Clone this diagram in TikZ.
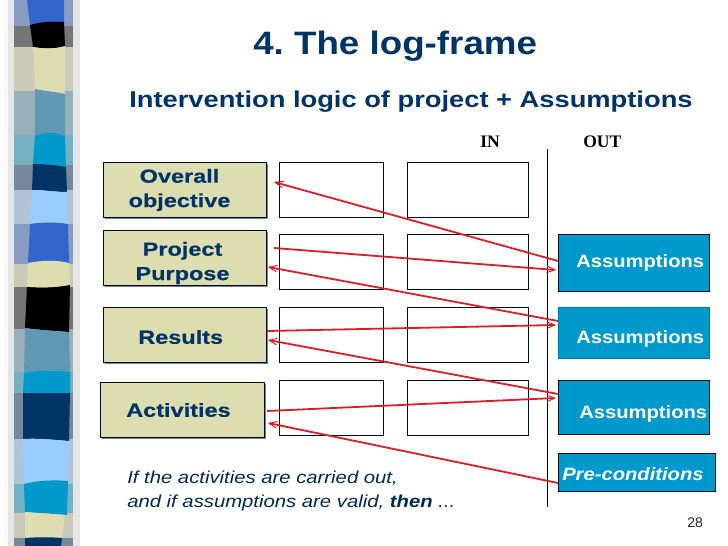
\documentclass[tikz,border=0pt]{standalone}
\usepackage{fontspec}
\setmainfont{Liberation Sans}
\newfontfamily\serifb{Liberation Serif}
\usetikzlibrary{arrows.meta,shadows}
\definecolor{navy}{HTML}{003366}
\definecolor{khaki}{HTML}{DDDDB1}
\definecolor{teal}{HTML}{0099CC}
\definecolor{redline}{HTML}{D81E26}
\definecolor{royal}{HTML}{3366CC}
\definecolor{steel}{HTML}{5F99B3}
\definecolor{sky}{HTML}{99CCFF}
\newcommand{\ls}[1]{\addfontfeature{FakeStretch=#1}}
\newcommand{\lsh}[1]{\addfontfeature{FakeStretch=#1,FakeBold=0.4}}
\tikzset{
 x=0.75pt,y=-0.75pt,
 box/.style={draw=black,line width=0.95pt,inner sep=0pt,anchor=north west},
 labelbox/.style={box,fill=khaki,draw=black!80!navy,drop shadow={shadow xshift=.9pt,shadow yshift=-.9pt,fill=navy!60!gray,opacity=.7}},
 emptybox/.style={box,fill=white,draw=black!70!navy,drop shadow={shadow xshift=.6pt,shadow yshift=-.6pt,fill=navy!40!gray,opacity=.5}},
 bluebox/.style={box,fill=teal,draw=black!70!navy,drop shadow={shadow xshift=.6pt,shadow yshift=-.6pt,fill=navy!40!gray,opacity=.5}},
 link/.style={draw=redline,line width=1.35pt,-{Straight Barb[length=6pt,width=5pt,line width=.7pt]}},
 txt/.style={inner sep=0pt,anchor=west},
 lbl/.style={txt,text=navy,font=\fontsize{14.2}{18.3}\selectfont\bfseries\lsh{1.24}},
 bt/.style={txt,text=white,font=\fontsize{13.4}{16}\selectfont\bfseries\ls{1.13}},
 note/.style={txt,font=\fontsize{13}{18}\selectfont\itshape\ls{1.17},text=navy!80!black},
}
\begin{document}
\begin{tikzpicture}
\frenchspacing
\useasboundingbox (0,0) rectangle (728,546);
\fill[white] (0,0) rectangle (728,546);
% ribbon shadow
\foreach \a/\o in {4/12,8/20,12/35}{\fill[black,opacity=.02*\o/12] (\a,0) rectangle (82-\a,546);}
\fill[black!10] (8,0) rectangle (14,546);
\fill[black!10] (73,0) rectangle (80,546);
% ribbon side panels
\foreach \ya/\yb/\c in {0/26/royal,26/47/black,47/91/khaki,91/135/steel,135/165/teal,165/190/navy,190/224/sky,224/264/royal,264/287/khaki,287/329/black,329/372/steel,372/393/teal,393/439/navy,439/484/sky,484/513/teal,513/538/khaki,538/546/navy}{
 \fill[\c!55!gray!70!white] (14,\ya) rectangle (73,\yb);
}
% ribbon centre
\fill[royal] (27,0) -- (64,0) -- (64,22) .. controls (50,21) and (40,22) .. (30,25) -- cycle;
\fill[black] (30,25) .. controls (40,22) and (50,21) .. (64,22) -- (65,46) .. controls (55,49) and (45,49) .. (33,47) -- cycle;
\fill[khaki] (33,47) .. controls (45,49) and (55,49) .. (65,46) -- (65,94) .. controls (55,92) and (45,91) .. (35,89) -- cycle;
\fill[steel] (35,89) .. controls (45,91) and (55,92) .. (65,94) -- (65,136) .. controls (55,132) and (45,132) .. (35,136) -- cycle;
\fill[teal] (35,136) .. controls (45,132) and (55,132) .. (65,136) -- (66,167) .. controls (55,165) and (45,164) .. (33,164) -- cycle;
\fill[navy] (33,164) .. controls (45,164) and (55,165) .. (66,167) -- (67,192) .. controls (55,192) and (45,190) .. (32,190) -- cycle;
\fill[sky] (32,190) .. controls (45,190) and (55,192) .. (67,192) -- (68,224) .. controls (55,222) and (45,222) .. (30,224) -- cycle;
\fill[royal] (30,224) .. controls (45,222) and (55,222) .. (68,224) -- (69,263) .. controls (55,260) and (45,260) .. (28,263) -- cycle;
\fill[khaki] (28,263) .. controls (45,260) and (55,260) .. (69,263) -- (70,285) .. controls (55,288) and (40,288) .. (27,287) -- cycle;
\fill[black] (27,287) .. controls (40,288) and (55,288) .. (70,285) -- (69,332) .. controls (55,331) and (40,330) .. (25,328) -- cycle;
\fill[steel] (25,328) .. controls (40,330) and (55,331) .. (69,332) -- (70,372) .. controls (55,370) and (40,370) .. (24,373) -- cycle;
\fill[teal] (24,373) .. controls (40,370) and (55,370) .. (70,372) -- (70,393) -- (23,393) -- cycle;
\fill[navy] (23,393) -- (70,393) -- (69,441) .. controls (55,440) and (40,438) .. (23,439) -- cycle;
\fill[sky] (23,439) .. controls (40,438) and (55,440) .. (69,441) -- (68,481) .. controls (55,480) and (40,480) .. (24,484) -- cycle;
\fill[teal] (24,484) .. controls (40,480) and (55,480) .. (68,481) -- (67,515) .. controls (55,514) and (40,513) .. (25,512) -- cycle;
\fill[khaki] (25,512) .. controls (40,513) and (55,514) .. (65,515) -- (62,538) .. controls (50,537) and (40,537) .. (25,538) -- cycle;
\fill[navy] (25,538) .. controls (40,537) and (50,537) .. (62,538) -- (61,546) -- (25,546) -- cycle;
% titles
\node[txt,font=\fontsize{24.3}{28}\selectfont\bfseries\ls{1.134},text=navy] (title) at (253,46) {4. The log-frame};
\node[txt,font=\fontsize{17.2}{20}\selectfont\bfseries\ls{1.19},text=navy] (sub) at (129,102) {Intervention logic of project + Assumptions};
\node[txt,font=\serifb\fontsize{13.2}{14}\selectfont\bfseries] (in) at (480,142) {IN};
\node[txt,font=\serifb\fontsize{13.2}{14}\selectfont\bfseries] (out) at (583,142) {OUT};
% divider
\coordinate (divtop) at (547,149);
\coordinate (divbot) at (547,507);
\draw[black,line width=.7pt] (divtop) -- (divbot);
% left boxes
\node[labelbox,minimum width=122.25pt,minimum height=41.25pt] (overall) at (103,162) {};
\node[labelbox,minimum width=122.25pt,minimum height=41.25pt] (purpose) at (103,230) {};
\node[labelbox,minimum width=122.25pt,minimum height=41.25pt] (results) at (103,307) {};
\node[labelbox,minimum width=123pt,minimum height=41.25pt] (activities) at (100,382) {};
\node[lbl,align=center,anchor=center] (t1) at (179.5,190) {Overall\\objective};
\node[lbl,align=center,anchor=center] (t2) at (182.5,263) {Project\\Purpose};
\node[lbl] (t3) at (138,337) {Results};
\node[lbl] (t4) at (126,410) {Activities};
% middle boxes
\foreach \n/\y/\h in {a/162/55,b/234/55,c/307/55,d/380/55}{
 \node[emptybox,minimum width=78pt,minimum height=\h*0.75pt] (m\n) at (279,\y) {};
 \node[emptybox,minimum width=90.75pt,minimum height=\h*0.75pt] (r\n) at (407,\y) {};
}
% blue boxes
\node[bluebox,minimum width=113.25pt,minimum height=42.75pt] (as1) at (558,234) {};
\node[bluebox,draw=teal!80!black,minimum width=113.25pt,minimum height=38.25pt] (as2) at (558,307) {};
\node[bluebox,minimum width=113.25pt,minimum height=40.5pt] (as3) at (558,380) {};
\node[bluebox,minimum width=117.75pt,minimum height=28.5pt] (pre) at (558,453) {};
\node[bt] (at1) at (576,263) {Assumptions};
\node[bt] (at2) at (576,339) {Assumptions};
\node[bt] (at3) at (579,414) {Assumptions};
\node[txt,text=white,font=\fontsize{13.4}{16}\selectfont\bfseries\itshape\ls{1.13}] (pt) at (562,474) {Pre-conditions};
% bottom text
\node[note] (b1) at (127,478) {If the activities are carried out,};
\node[note] (b2) at (127,503) {and if assumptions are valid, \textbf{then} ...};
\node[txt,font=\fontsize{10.5}{12}\selectfont,text=black!85] (pg) at (687,523) {28};
% connectors
\coordinate (e1) at (274,182);
\coordinate (s2) at (274,248);
\coordinate (e3) at (268,267);
\coordinate (s4) at (267,331);
\coordinate (e5) at (268,340);
\coordinate (s6) at (267,411);
\coordinate (e7) at (268,423);
\coordinate (p1) at (558,261);
\coordinate (p2) at (556,270);
\coordinate (p3) at (558,321);
\coordinate (p4) at (556,325);
\coordinate (p5) at (558,394);
\coordinate (p6) at (556,398);
\coordinate (p7) at (558,483);
\draw[link] (p1) -- (e1);
\draw[link] (s2) -- (p2);
\draw[link] (p3) -- (e3);
\draw[link] (s4) -- (p4);
\draw[link] (p5) -- (e5);
\draw[link] (s6) -- (p6);
\draw[link] (p7) -- (e7);
\end{tikzpicture}
\end{document}
